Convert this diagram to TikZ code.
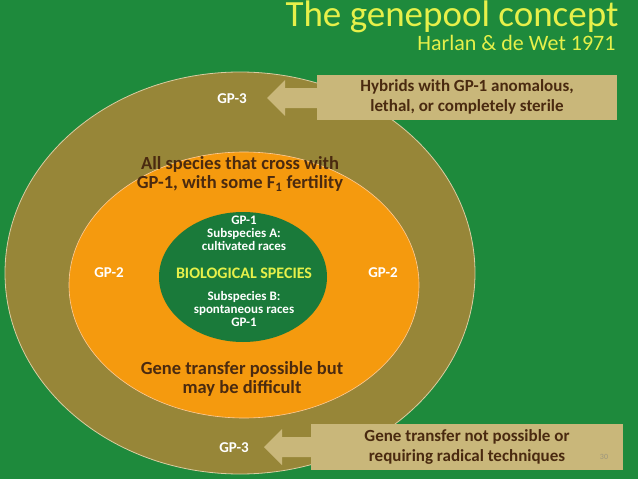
\documentclass[tikz,border=0pt]{standalone}
\usepackage{fontspec}
\setmainfont{Carlito}
\definecolor{bg}{HTML}{1E8A3C}
\definecolor{olive}{HTML}{978638}
\definecolor{orng}{HTML}{F59A0E}
\definecolor{ingreen}{HTML}{1A7A3A}
\definecolor{tan}{HTML}{C9B77A}
\definecolor{brn}{HTML}{4A2A10}
\definecolor{ttl}{HTML}{E6F04A}
\tikzset{
 gp/.style={text=white,font=\bfseries\fontsize{15}{16}\selectfont},
 otext/.style={text=brn,font=\bfseries\fontsize{18.5}{19}\selectfont,align=center},
 itext/.style={text=white,font=\bfseries\fontsize{13}{12.8}\selectfont,align=center},
 boxt/.style={fill=tan,text=brn,font=\bfseries\fontsize{17}{19.5}\selectfont,align=center,inner sep=0pt},
 arrfill/.style={fill=tan}
}
\begin{document}
\begin{tikzpicture}[x=1pt,y=-1pt]
\fill[bg] (0,0) rectangle (638,479);
\useasboundingbox (0,0) rectangle (638,479);
\fill[olive,draw=tan!70,line width=0.8pt] (240,273) ellipse [x radius=235,y radius=201];
\fill[orng,draw=orange!40,line width=0.6pt] (244,285) ellipse [x radius=175,y radius=133];
\fill[ingreen] (243,277) ellipse [x radius=84,y radius=65];
\node[text=ttl,font=\fontsize{37}{37}\selectfont,anchor=east] (title) at (622,17) {The genepool concept};
\node[text=ttl,font=\fontsize{22}{22}\selectfont,anchor=east] (sub) at (619,43) {Harlan \& de Wet 1971};
% top box
\node[boxt,minimum width=300pt,minimum height=45pt] (b1) at (467,97) {Hybrids with GP-1 anomalous,\\lethal, or completely sterile};
\coordinate (t1) at (267,98);
\fill[arrfill] (t1) -- ++(18,-18) -- ++(0,8) -- ++(34,0) -- ++(0,20) -- ++(-34,0) -- ++(0,8) -- cycle;
\node[gp] (g3t) at (232,99) {GP-3};
% bottom box
\node[boxt,minimum width=312pt,minimum height=46pt] (b2) at (467,447) {Gene transfer not possible or\\requiring radical techniques\hspace{22pt}};
\coordinate (t2) at (264,447);
\fill[arrfill] (t2) -- ++(18,-18) -- ++(0,8) -- ++(32,0) -- ++(0,20) -- ++(-32,0) -- ++(0,8) -- cycle;
\node[gp] (g3b) at (234,448) {GP-3};
\node[text=gray!60!tan,font=\fontsize{8}{8}\selectfont] (pg) at (604,457) {30};
% GP-2
\node[gp] (g2l) at (109,273) {GP-2};
\node[gp] (g2r) at (383,273) {GP-2};
% orange texts
\node[otext] (o1) at (240,174) {All species that cross with\\GP-1, with some F\textsubscript{1} fertility};
\node[otext] (o2) at (242,379) {Gene transfer possible but\\may be difficult};
% inner
\node[itext] (i1) at (244,233) {GP-1\\Subspecies A:\\cultivated races};
\node[text=ttl,font=\bfseries\fontsize{16}{16}\selectfont] (bio) at (244,273) {BIOLOGICAL SPECIES};
\node[itext] (i2) at (244,309) {Subspecies B:\\spontaneous races\\GP-1};
\end{tikzpicture}
\end{document}
